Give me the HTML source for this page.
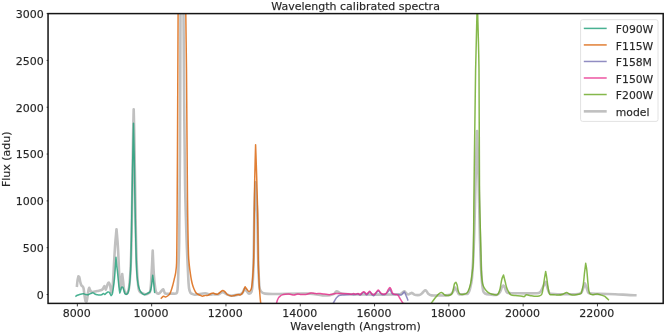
<!DOCTYPE html>
<html><head><meta charset="utf-8"><title>Wavelength calibrated spectra</title>
<style>html,body{margin:0;padding:0;background:#fff;width:665px;height:334px;overflow:hidden}svg{display:block}</style>
</head><body>
<svg width="665" height="334" viewBox="0 0 665 334" font-family="'DejaVu Sans', 'Liberation Sans', sans-serif"><style>text{stroke:#262626;stroke-width:0.25px;stroke-opacity:0.6}</style><defs><clipPath id="ax"><rect x="48.05" y="13.6" width="615.15" height="289.8"/></clipPath></defs>
<g clip-path="url(#ax)" fill="none" stroke-linejoin="round" stroke-linecap="butt">
<path d="M76.80 287.00 C77.07 284.67 77.26 282.32 77.60 280.00 C77.79 278.72 78.13 277.47 78.40 276.20 C78.67 276.47 79.09 276.65 79.20 277.00 C79.76 278.75 79.91 280.69 80.40 282.50 C80.68 283.53 80.97 284.62 81.50 285.50 C81.77 285.95 82.50 286.07 82.80 286.50 C83.20 287.07 83.46 287.80 83.60 288.50 C83.99 290.47 84.10 292.51 84.40 294.50 C84.73 296.67 84.88 299.03 85.50 301.00 C85.61 301.36 86.48 301.80 86.60 301.50 C87.18 300.13 87.30 297.84 87.60 296.00 C87.93 294.00 88.11 291.98 88.50 290.00 C88.65 289.25 88.97 288.53 89.20 287.80 C89.57 288.70 89.82 289.67 90.30 290.50 C90.59 291.00 90.99 291.62 91.50 291.80 C92.22 292.05 93.18 291.90 94.00 291.80 C95.08 291.67 96.14 291.35 97.20 291.10 C98.40 290.82 99.63 290.59 100.80 290.20 C101.43 289.99 102.14 289.74 102.60 289.30 C103.07 288.84 103.26 288.09 103.60 287.50 C103.86 287.06 104.13 286.63 104.40 286.20 C104.67 286.80 104.95 287.39 105.20 288.00 C105.42 288.53 105.60 289.07 105.80 289.60 C106.20 288.40 106.58 287.19 107.00 286.00 C107.32 285.09 107.55 284.11 108.00 283.30 C108.18 282.98 108.69 282.46 108.90 282.60 C109.29 282.86 109.60 283.83 109.80 284.50 C110.14 285.63 110.29 286.83 110.50 288.00 C110.76 289.49 110.97 291.00 111.20 292.50 C111.47 291.67 111.82 290.85 112.00 290.00 C112.35 288.35 112.67 286.68 112.80 285.00 C113.34 278.01 113.59 271.00 114.00 264.00 C114.39 257.33 114.72 250.66 115.20 244.00 C115.55 239.06 116.07 234.13 116.50 229.20 C116.93 234.47 117.47 239.73 117.80 245.00 C118.27 252.66 118.53 260.33 118.90 268.00 C119.19 274.00 119.37 280.02 119.80 286.00 C119.87 287.02 120.20 288.00 120.40 289.00 C120.67 286.67 120.92 284.33 121.20 282.00 C121.52 279.33 121.87 276.67 122.20 274.00 C122.53 276.67 122.88 279.33 123.20 282.00 C123.48 284.33 123.51 286.72 124.00 289.00 C124.35 290.62 124.86 292.74 125.70 293.70 C126.03 294.07 127.20 293.51 127.50 293.00 C128.30 291.61 128.78 289.72 129.00 288.00 C129.78 282.05 130.19 276.01 130.50 270.00 C131.02 260.01 131.28 250.00 131.50 240.00 C131.94 220.00 132.19 200.00 132.50 180.00 C132.76 163.33 132.92 146.67 133.20 130.00 C133.32 123.10 133.53 116.20 133.70 109.30 C133.87 116.20 134.07 123.10 134.20 130.00 C134.51 146.67 134.73 163.33 135.00 180.00 C135.33 200.00 135.56 220.00 136.00 240.00 C136.22 250.00 136.48 260.01 137.00 270.00 C137.31 276.01 137.69 282.07 138.50 288.00 C138.69 289.40 139.05 291.09 140.00 292.00 C141.22 293.16 143.29 293.88 145.00 294.20 C145.96 294.38 147.10 293.94 148.00 293.50 C148.80 293.11 149.93 292.57 150.10 291.70 C151.10 286.41 151.15 280.57 151.50 275.00 C152.01 266.87 152.30 258.73 152.70 250.60 C153.10 258.73 153.36 266.88 153.90 275.00 C154.19 279.34 154.57 283.70 155.20 288.00 C155.44 289.64 155.67 291.60 156.50 292.80 C156.93 293.43 158.28 293.71 159.00 293.50 C159.78 293.27 160.34 292.17 161.00 291.50 C161.71 290.77 162.54 289.04 163.10 289.30 C163.97 289.71 164.06 292.93 165.30 293.50 C167.19 294.36 170.10 293.64 172.50 293.60 C173.84 293.58 175.69 294.03 176.50 293.30 C177.39 292.49 177.48 290.47 177.60 289.00 C178.11 282.70 178.19 276.34 178.40 270.00 C178.73 260.00 179.07 250.00 179.20 240.00 C179.60 210.00 179.83 180.00 180.00 150.00 C180.26 104.67 180.30 59.33 180.50 14.00 C180.97 -90.67 181.50 -195.33 182.00 -300.00 C182.50 -195.33 182.85 -90.67 183.50 14.00 C183.85 69.33 184.24 124.67 185.00 180.00 C185.27 200.00 185.95 220.00 186.60 240.00 C186.95 250.67 187.47 261.34 188.00 272.00 C188.27 277.34 188.37 282.72 189.00 288.00 C189.20 289.72 189.75 291.54 190.50 293.00 C190.75 293.47 191.47 293.60 192.00 293.80 C192.97 294.17 193.97 294.75 195.00 294.70 C198.44 294.55 201.98 293.20 205.40 293.20 C206.98 293.20 208.44 294.50 210.00 294.70 C210.98 294.83 211.99 294.23 213.00 294.20 C214.66 294.16 216.42 294.82 218.00 294.50 C219.58 294.18 220.99 292.27 222.50 292.30 C224.22 292.34 225.92 294.02 227.70 294.70 C228.89 295.15 230.15 295.70 231.40 295.70 C233.58 295.70 235.83 295.15 238.00 294.70 C239.36 294.42 241.06 294.38 242.00 293.50 C243.26 292.31 243.73 290.17 244.60 288.50 C245.40 289.50 246.16 290.53 247.00 291.50 C247.63 292.23 248.27 293.55 249.00 293.60 C249.77 293.65 251.16 292.70 251.50 291.80 C252.36 289.50 252.39 286.62 252.60 284.00 C253.02 278.68 253.22 273.34 253.40 268.00 C253.66 260.34 253.77 252.67 253.90 245.00 C254.07 235.00 254.10 225.00 254.30 215.00 C254.43 208.67 254.67 202.33 254.90 196.00 C255.07 191.40 255.30 186.80 255.50 182.20 C255.73 186.80 255.95 191.40 256.20 196.00 C256.55 202.33 257.08 208.66 257.30 215.00 C257.65 224.99 257.70 235.00 257.90 245.00 C258.03 251.67 258.10 258.34 258.30 265.00 C258.44 269.67 258.61 274.34 258.90 279.00 C259.11 282.34 259.06 285.82 259.80 289.00 C260.10 290.28 261.04 291.55 262.00 292.40 C262.77 293.08 263.95 293.44 265.00 293.60 C267.45 293.97 270.00 294.00 272.50 294.00 C285.00 294.00 297.53 293.25 310.00 293.60 C314.20 293.72 318.32 295.07 322.50 295.40 C324.98 295.60 327.54 295.50 330.00 295.20 C331.37 295.03 332.84 294.69 334.00 294.00 C335.08 293.36 335.67 291.33 336.70 291.20 C337.81 291.06 339.09 292.76 340.40 293.20 C341.86 293.69 343.45 293.86 345.00 294.00 C348.32 294.30 351.66 294.49 355.00 294.50 C370.00 294.55 385.16 294.82 400.00 294.20 C401.00 294.16 401.67 293.07 402.50 292.50 C403.13 292.07 403.83 291.06 404.40 291.20 C405.17 291.39 405.72 292.84 406.50 293.50 C407.02 293.94 407.70 294.50 408.30 294.50 C408.93 294.50 409.55 293.78 410.20 293.50 C410.78 293.25 411.45 292.78 412.00 292.90 C412.71 293.05 413.29 293.91 414.00 294.30 C414.56 294.61 415.17 294.92 415.80 295.00 C417.00 295.15 418.32 295.21 419.50 295.00 C420.16 294.88 420.76 294.41 421.30 294.00 C421.86 293.58 422.28 292.98 422.80 292.50 C423.61 291.75 424.45 290.51 425.30 290.30 C425.79 290.18 426.39 291.02 426.80 291.50 C427.36 292.15 427.55 293.16 428.20 293.70 C429.12 294.46 430.31 295.19 431.50 295.40 C433.58 295.76 435.83 295.40 438.00 295.40 C439.97 295.40 441.94 295.50 443.90 295.40 C445.94 295.30 448.16 295.42 450.00 294.80 C451.02 294.46 451.87 293.42 452.50 292.50 C453.54 290.99 454.17 289.17 455.00 287.50 C455.90 289.00 456.82 290.49 457.70 292.00 C458.12 292.72 458.19 294.01 458.90 294.20 C460.63 294.67 462.98 294.16 465.00 294.00 C466.01 293.92 467.36 294.14 468.00 293.50 C469.03 292.47 469.59 290.58 470.00 289.00 C470.93 285.41 471.70 281.71 472.00 278.00 C473.03 265.38 473.53 252.67 474.00 240.00 C474.73 220.01 475.03 200.00 475.60 180.00 C476.06 163.67 476.60 147.33 477.10 131.00 C477.60 147.33 478.17 163.66 478.60 180.00 C479.13 200.00 479.40 220.00 480.00 240.00 C480.36 252.00 480.75 264.02 481.50 276.00 C481.81 281.02 482.23 286.16 483.20 291.00 C483.40 291.99 484.15 293.06 485.00 293.50 C486.41 294.23 488.31 294.33 490.00 294.50 C492.31 294.73 494.89 295.23 497.00 294.70 C498.22 294.40 499.29 293.10 500.00 292.00 C500.95 290.53 501.18 288.57 502.00 287.00 C502.31 286.40 502.99 285.36 503.40 285.50 C503.99 285.70 504.55 287.12 505.00 288.00 C505.75 289.46 505.90 291.55 507.00 292.50 C507.90 293.28 509.65 293.12 511.00 293.20 C513.99 293.38 517.00 293.30 520.00 293.30 C525.67 293.30 531.38 293.51 537.00 293.20 C538.05 293.14 539.28 292.88 540.00 292.20 C541.11 291.15 541.72 289.43 542.50 288.00 C543.62 285.96 544.63 283.87 545.70 281.80 C546.70 285.10 547.43 288.55 548.70 291.70 C549.03 292.52 549.63 293.62 550.50 293.70 C558.40 294.45 566.86 294.39 575.00 294.20 C577.03 294.15 579.54 294.09 581.00 293.00 C582.31 292.02 582.59 289.69 583.30 288.00 C583.93 286.49 584.43 284.93 585.00 283.40 C585.57 284.93 586.11 286.47 586.70 288.00 C587.35 289.67 587.27 292.37 588.70 293.00 C591.71 294.33 596.23 293.73 600.00 293.90 C604.99 294.13 610.00 294.00 615.00 294.20 C620.00 294.40 625.00 294.87 630.00 295.10 C632.20 295.20 634.40 295.17 636.60 295.20" stroke="#c0c0c0" stroke-width="2.6"/>
<path d="M75.30 296.50 C76.00 296.10 76.67 295.65 77.40 295.30 C78.07 294.98 78.79 294.73 79.50 294.50 C80.22 294.26 80.96 294.03 81.70 293.90 C82.29 293.80 82.91 293.72 83.50 293.80 C84.18 293.89 84.82 294.24 85.50 294.40 C86.26 294.58 87.06 294.87 87.80 294.80 C88.39 294.74 88.93 294.25 89.50 294.00 C90.16 293.72 90.82 293.41 91.50 293.20 C92.02 293.04 92.61 292.76 93.10 292.90 C93.91 293.13 94.59 293.95 95.40 294.30 C96.05 294.58 96.79 294.67 97.50 294.80 C98.09 294.91 98.70 295.01 99.30 295.00 C100.10 294.98 100.96 294.96 101.70 294.70 C102.36 294.46 102.90 293.56 103.50 293.50 C103.94 293.46 104.38 294.45 104.80 294.40 C105.28 294.35 105.71 293.57 106.20 293.20 C106.78 292.77 107.36 292.19 108.00 292.00 C108.39 291.89 109.00 292.03 109.30 292.30 C109.73 292.69 109.89 293.44 110.20 294.00 C110.49 294.54 110.80 295.07 111.10 295.60 C111.47 295.17 112.03 294.83 112.20 294.30 C112.73 292.63 112.94 290.78 113.20 289.00 C113.67 285.81 114.08 282.61 114.40 279.40 C114.78 275.61 115.03 271.80 115.30 268.00 C115.56 264.40 115.77 260.80 116.00 257.20 C116.27 260.13 116.50 263.07 116.80 266.00 C116.97 267.67 117.23 269.33 117.40 271.00 C117.69 273.80 117.92 276.60 118.20 279.40 C118.52 282.60 118.83 285.80 119.20 289.00 C119.36 290.37 119.60 291.73 119.80 293.10 C120.07 292.30 120.35 291.51 120.60 290.70 C120.95 289.54 121.05 288.08 121.60 287.20 C121.78 286.91 122.60 286.91 122.80 287.20 C123.40 288.08 123.59 289.54 124.00 290.70 C124.36 291.70 124.48 293.00 125.10 293.70 C125.45 294.10 126.41 294.19 126.90 294.00 C127.41 293.79 127.91 293.10 128.10 292.50 C128.71 290.63 129.03 288.59 129.30 286.60 C129.73 283.42 129.99 280.21 130.20 277.00 C130.52 272.01 130.77 267.00 130.90 262.00 C131.27 248.00 131.46 234.00 131.70 220.00 C131.99 203.33 132.19 186.67 132.50 170.00 C132.79 154.40 133.17 138.80 133.50 123.20 C133.83 138.80 134.21 154.40 134.50 170.00 C134.81 186.67 134.98 203.33 135.30 220.00 C135.54 232.67 135.81 245.34 136.20 258.00 C136.38 263.67 136.58 269.35 137.00 275.00 C137.25 278.35 137.59 281.71 138.20 285.00 C138.53 286.78 139.12 288.53 139.80 290.20 C140.12 291.00 140.60 291.79 141.20 292.40 C142.07 293.29 143.12 294.48 144.20 294.70 C145.12 294.88 146.26 294.08 147.20 293.60 C148.22 293.08 149.61 292.66 150.10 291.70 C151.07 289.80 151.24 287.26 151.60 285.00 C152.11 281.79 152.33 278.53 152.70 275.30 C153.00 277.53 153.35 279.76 153.60 282.00 C153.98 285.46 154.10 289.07 154.60 292.40 C154.63 292.60 155.00 292.53 155.20 292.60" stroke="#1b9e77" stroke-width="1.5" stroke-opacity="0.8"/>
<path d="M160.80 298.70 C161.70 297.87 162.50 296.55 163.50 296.20 C164.14 295.98 164.99 297.03 165.70 297.00 C166.35 296.97 167.04 296.44 167.60 296.00 C168.41 295.37 169.28 294.67 169.80 293.80 C170.61 292.44 171.08 290.83 171.60 289.30 C172.15 287.69 172.57 286.04 173.00 284.40 C173.47 282.61 173.88 280.80 174.30 279.00 C174.78 276.90 175.39 274.83 175.70 272.70 C176.16 269.49 176.53 266.25 176.60 263.00 C177.03 242.01 177.06 221.00 177.20 200.00 C177.42 166.67 177.54 133.33 177.70 100.00 C177.84 71.33 177.96 42.67 178.10 14.00 C178.99 -170.67 179.90 -355.33 180.80 -540.00 C182.47 -355.33 184.07 -170.67 185.80 14.00 C185.97 32.67 186.33 51.33 186.50 70.00 C186.90 113.33 187.03 156.67 187.50 200.00 C187.70 218.34 187.97 236.68 188.50 255.00 C188.61 258.68 189.03 262.34 189.40 266.00 C189.63 268.34 189.97 270.67 190.30 273.00 C190.63 275.34 190.96 277.68 191.40 280.00 C191.72 281.68 192.12 283.36 192.60 285.00 C192.99 286.36 193.46 287.70 194.00 289.00 C194.46 290.10 194.93 291.23 195.60 292.20 C196.13 292.97 196.83 293.68 197.60 294.20 C198.37 294.72 199.33 294.94 200.20 295.30 C200.96 295.61 201.72 296.18 202.50 296.20 C203.32 296.22 204.14 295.53 205.00 295.40 C205.94 295.26 207.00 295.66 207.90 295.40 C208.94 295.10 209.79 294.18 210.80 293.70 C211.56 293.34 212.42 292.84 213.20 292.90 C214.05 292.97 214.83 293.87 215.70 294.10 C216.36 294.27 217.19 294.36 217.80 294.10 C218.73 293.70 219.45 292.74 220.30 292.10 C221.08 291.51 221.88 290.49 222.70 290.40 C223.38 290.32 224.21 291.07 224.80 291.60 C225.74 292.44 226.27 293.81 227.30 294.50 C228.47 295.28 230.01 295.83 231.40 296.00 C232.47 296.13 233.61 295.65 234.70 295.40 C235.81 295.15 236.89 294.60 238.00 294.50 C238.82 294.43 239.83 295.22 240.50 294.90 C241.50 294.42 242.40 293.17 243.00 292.10 C243.93 290.44 244.40 288.50 245.10 286.70 C245.77 287.67 246.35 288.70 247.10 289.60 C247.72 290.34 248.57 291.72 249.20 291.60 C249.97 291.45 250.92 289.87 251.30 288.80 C251.88 287.17 251.89 285.27 252.10 283.50 C252.39 281.01 252.63 278.50 252.80 276.00 C253.13 271.34 253.44 266.67 253.60 262.00 C253.84 254.67 253.90 247.33 254.00 240.00 C254.13 230.00 254.18 220.00 254.30 210.00 C254.42 200.00 254.50 190.00 254.70 180.00 C254.93 168.27 255.30 156.53 255.60 144.80 C256.00 156.53 256.44 168.27 256.80 180.00 C257.11 190.00 257.40 200.00 257.60 210.00 C257.80 220.00 257.87 230.00 258.00 240.00 C258.10 247.33 258.14 254.67 258.30 262.00 C258.40 266.67 258.60 271.33 258.80 276.00 C258.97 280.00 259.15 284.00 259.40 288.00 C259.62 291.47 259.90 294.94 260.20 298.40 C260.37 300.40 260.68 302.39 260.80 304.40 C261.11 309.59 261.27 314.80 261.50 320.00" stroke="#d95f02" stroke-width="1.5" stroke-opacity="0.8"/>
<path d="M332.60 304.40 C333.23 303.27 333.85 302.12 334.50 301.00 C335.08 299.99 335.57 298.89 336.30 298.00 C337.07 297.06 337.93 295.96 339.00 295.50 C340.33 294.93 341.99 295.02 343.50 294.90 C345.66 294.72 347.83 294.66 350.00 294.60 C351.67 294.56 353.34 294.70 355.00 294.60 C356.01 294.54 357.02 294.03 358.00 294.10 C358.85 294.16 359.76 295.23 360.50 295.00 C361.69 294.63 362.74 292.30 363.80 292.30 C364.77 292.30 365.67 295.05 366.60 295.00 C367.63 294.95 368.71 291.92 369.70 292.00 C370.77 292.09 371.65 294.66 372.80 295.50 C373.15 295.76 373.85 295.59 374.20 295.30 C375.68 294.09 376.93 291.17 378.30 291.00 C379.39 290.87 380.30 293.72 381.60 294.40 C382.53 294.89 384.04 294.92 385.00 294.50 C386.24 293.96 387.23 292.59 388.20 291.50 C388.87 290.75 389.33 289.83 389.90 289.00 C390.73 290.67 391.21 292.83 392.40 294.00 C393.04 294.63 394.40 294.29 395.40 294.40 C396.26 294.49 397.14 294.51 398.00 294.60 C399.00 294.71 400.07 295.14 401.00 295.00 C401.57 294.91 402.04 294.32 402.50 293.90 C403.14 293.32 403.82 291.84 404.30 292.00 C404.92 292.21 405.33 293.99 405.80 295.00 C406.23 295.92 406.61 296.86 407.00 297.80 C407.38 298.73 407.73 299.67 408.10 300.60" stroke="#7570b3" stroke-width="1.5" stroke-opacity="0.8"/>
<path d="M276.00 305.50 C276.40 303.93 276.70 302.33 277.20 300.80 C277.56 299.70 277.97 298.55 278.60 297.60 C279.07 296.89 279.81 296.32 280.50 295.80 C281.01 295.42 281.60 295.10 282.20 294.90 C283.10 294.60 284.06 294.43 285.00 294.30 C286.16 294.13 287.34 293.96 288.50 294.00 C289.34 294.03 290.17 294.33 291.00 294.50 C292.00 294.70 293.01 295.17 294.00 295.10 C295.21 295.01 296.38 294.12 297.60 294.00 C298.71 293.89 299.86 294.33 301.00 294.40 C302.56 294.50 304.16 294.71 305.70 294.50 C307.53 294.25 309.28 293.17 311.10 293.00 C312.58 292.87 314.09 293.50 315.60 293.60 C317.09 293.70 318.60 293.53 320.10 293.60 C321.47 293.66 322.84 293.84 324.20 294.00 C325.87 294.20 327.54 294.68 329.20 294.70 C330.40 294.71 331.61 294.33 332.80 294.10 C333.67 293.93 334.52 293.58 335.40 293.50 C337.18 293.34 339.00 293.37 340.80 293.40 C343.20 293.44 345.61 293.50 348.00 293.70 C349.24 293.80 350.49 294.32 351.70 294.30 C352.32 294.29 352.89 293.60 353.50 293.60 C354.23 293.60 354.97 294.30 355.70 294.30 C356.47 294.30 357.25 293.55 358.00 293.60 C358.75 293.65 359.55 294.75 360.20 294.60 C360.95 294.42 361.47 293.19 362.20 292.60 C362.67 292.22 363.29 291.67 363.80 291.70 C364.32 291.73 364.85 292.38 365.30 292.80 C365.78 293.25 366.16 294.33 366.60 294.30 C367.12 294.26 367.64 293.14 368.20 292.60 C368.67 292.14 369.23 291.24 369.70 291.30 C370.23 291.37 370.69 292.44 371.20 293.00 C371.59 293.44 371.91 294.02 372.40 294.30 C372.85 294.56 373.56 294.80 374.00 294.60 C374.69 294.30 375.21 293.41 375.80 292.80 C376.65 291.91 377.47 290.21 378.30 290.10 C378.94 290.01 379.55 291.51 380.20 292.20 C380.65 292.68 381.05 293.27 381.60 293.60 C382.15 293.93 382.86 294.21 383.50 294.20 C384.33 294.18 385.42 294.06 386.00 293.50 C386.98 292.56 387.40 290.92 388.20 289.70 C388.70 288.95 389.38 287.60 389.90 287.60 C390.38 287.60 390.84 288.96 391.20 289.70 C391.77 290.86 391.97 292.30 392.70 293.30 C393.11 293.86 393.92 294.19 394.60 294.40 C395.32 294.62 396.20 294.36 396.90 294.60 C397.47 294.79 398.02 295.22 398.40 295.70 C399.02 296.49 399.38 297.51 399.90 298.40 C400.48 299.38 401.07 300.35 401.70 301.30 C402.04 301.82 402.50 302.26 402.80 302.80 C403.27 303.66 403.60 304.60 404.00 305.50" stroke="#e7298a" stroke-width="1.5" stroke-opacity="0.8"/>
<path d="M431.30 303.20 C432.20 301.97 433.07 300.71 434.00 299.50 C434.77 298.51 435.58 297.55 436.40 296.60 C437.22 295.65 437.96 294.60 438.90 293.80 C439.56 293.24 440.42 292.60 441.20 292.50 C441.78 292.43 442.47 292.92 443.00 293.30 C443.64 293.76 444.02 294.64 444.70 295.00 C445.42 295.38 446.36 295.50 447.20 295.50 C448.16 295.50 449.24 295.39 450.10 295.00 C450.87 294.65 451.70 294.04 452.10 293.30 C452.80 291.98 453.01 290.31 453.40 288.80 C453.85 287.05 453.98 285.14 454.60 283.50 C454.81 282.94 455.47 282.63 455.90 282.20 C456.30 283.13 456.83 284.03 457.10 285.00 C457.63 286.96 457.69 289.08 458.30 291.00 C458.65 292.11 459.05 293.78 460.00 294.10 C461.62 294.65 464.25 294.26 466.00 293.60 C466.99 293.23 467.72 292.01 468.20 291.00 C469.22 288.87 469.96 286.52 470.50 284.20 C471.23 281.02 471.60 277.75 472.00 274.50 C472.50 270.51 473.10 266.52 473.20 262.50 C473.77 238.35 473.70 214.17 474.00 190.00 C474.50 150.00 474.91 110.00 475.60 70.00 C476.01 46.66 476.73 23.33 477.30 0.00 C477.87 23.33 478.73 46.66 479.00 70.00 C479.46 110.00 479.07 150.00 479.50 190.00 C479.73 211.67 480.51 233.33 481.00 255.00 C481.11 260.00 481.04 265.01 481.30 270.00 C481.54 274.48 481.71 279.03 482.50 283.40 C482.84 285.26 483.73 287.08 484.70 288.70 C485.47 289.98 486.51 291.22 487.70 292.10 C489.01 293.06 490.62 293.78 492.20 294.20 C493.86 294.64 496.13 295.38 497.40 294.70 C498.63 294.04 499.24 291.81 499.70 290.20 C500.74 286.57 500.98 282.68 501.90 279.00 C502.25 277.61 502.97 276.33 503.50 275.00 C504.07 277.27 504.63 279.54 505.20 281.80 C505.73 283.87 506.10 285.99 506.80 288.00 C507.30 289.46 508.00 290.88 508.80 292.20 C509.37 293.15 509.98 294.30 510.90 294.80 C512.08 295.44 513.69 295.44 515.10 295.60 C516.85 295.80 518.64 295.72 520.40 295.90 C521.28 295.99 522.13 296.24 523.00 296.40 C523.43 296.48 523.94 296.77 524.30 296.60 C524.97 296.27 525.37 295.06 526.10 294.90 C527.20 294.66 528.57 295.20 529.80 295.40 C531.21 295.63 532.59 296.12 534.00 296.20 C535.72 296.29 537.56 296.30 539.20 295.90 C540.16 295.67 541.41 295.16 541.80 294.30 C542.75 292.20 542.79 289.44 543.20 287.00 C543.62 284.51 543.90 281.99 544.30 279.50 C544.73 276.83 545.23 274.17 545.70 271.50 C546.03 273.50 546.40 275.49 546.70 277.50 C547.14 280.46 547.37 283.46 547.90 286.40 C548.37 289.02 548.39 292.39 549.70 294.20 C550.39 295.16 552.50 294.55 553.90 294.70 C555.40 294.85 556.91 295.18 558.40 295.10 C559.91 295.02 561.46 294.67 562.90 294.20 C564.19 293.77 565.39 292.40 566.60 292.40 C567.63 292.40 568.51 293.83 569.60 294.20 C571.15 294.73 572.87 295.10 574.50 295.10 C576.00 295.10 577.54 294.61 579.00 294.20 C579.77 293.98 580.89 293.88 581.20 293.20 C582.29 290.82 582.75 287.77 583.20 285.00 C583.85 281.04 584.04 277.00 584.50 273.00 C584.87 269.76 585.30 266.53 585.70 263.30 C586.07 265.53 586.54 267.75 586.80 270.00 C587.31 274.45 587.48 278.95 588.00 283.40 C588.38 286.68 588.38 290.39 589.50 293.20 C589.88 294.15 591.45 294.52 592.50 294.70 C593.42 294.86 594.43 294.28 595.40 294.20 C596.39 294.12 597.42 294.05 598.40 294.20 C599.42 294.35 600.41 294.77 601.40 295.10 C602.41 295.44 603.49 295.68 604.40 296.20 C605.25 296.68 605.96 297.44 606.70 298.10 C607.46 298.77 608.17 299.50 608.90 300.20" stroke="#66a61e" stroke-width="1.5" stroke-opacity="0.8"/>
</g>
<path d="M46.65 294.50 H48.05 M46.65 247.68 H48.05 M46.65 200.87 H48.05 M46.65 154.05 H48.05 M46.65 107.23 H48.05 M46.65 60.42 H48.05 M46.65 13.60 H48.05 M77.35 303.40 V306.40 M151.65 303.40 V306.40 M225.95 303.40 V306.40 M300.26 303.40 V306.40 M374.56 303.40 V306.40 M448.86 303.40 V306.40 M523.16 303.40 V306.40 M597.46 303.40 V306.40" stroke="#262626" stroke-width="0.9" fill="none"/>
<rect x="48.05" y="13.6" width="615.15" height="289.8" fill="none" stroke="#151515" stroke-width="1.5"/>
<g font-size="11" fill="#262626"><text x="43.85" y="298.90" text-anchor="end">0</text><text x="43.85" y="252.08" text-anchor="end">500</text><text x="43.85" y="205.27" text-anchor="end">1000</text><text x="43.85" y="158.45" text-anchor="end">1500</text><text x="43.85" y="111.63" text-anchor="end">2000</text><text x="43.85" y="64.82" text-anchor="end">2500</text><text x="43.85" y="18.00" text-anchor="end">3000</text><text x="76.75" y="316.90" text-anchor="middle">8000</text><text x="151.05" y="316.90" text-anchor="middle">10000</text><text x="225.35" y="316.90" text-anchor="middle">12000</text><text x="299.66" y="316.90" text-anchor="middle">14000</text><text x="373.96" y="316.90" text-anchor="middle">16000</text><text x="448.26" y="316.90" text-anchor="middle">18000</text><text x="522.56" y="316.90" text-anchor="middle">20000</text><text x="596.86" y="316.90" text-anchor="middle">22000</text></g>
<text x="355.6" y="9.6" text-anchor="middle" font-size="11" fill="#262626">Wavelength calibrated spectra</text>
<text x="355.5" y="330.3" text-anchor="middle" font-size="11" fill="#262626">Wavelength (Angstrom)</text>
<text transform="translate(10.3 159.3) rotate(-90)" text-anchor="middle" font-size="11" fill="#262626">Flux (adu)</text>
<rect x="580.6" y="19.7" width="77.4" height="101.7" rx="2" ry="2" fill="#ffffff" fill-opacity="0.8" stroke="#e2e2e2" stroke-width="1"/><path d="M583.8 28.40 H606.7" stroke="#1b9e77" stroke-width="1.5" stroke-opacity="0.8"/><text x="615.8" y="33.10" font-size="10.8" fill="#262626">F090W</text><path d="M583.8 44.93 H606.7" stroke="#d95f02" stroke-width="1.5" stroke-opacity="0.8"/><text x="615.8" y="49.63" font-size="10.8" fill="#262626">F115W</text><path d="M583.8 61.46 H606.7" stroke="#7570b3" stroke-width="1.5" stroke-opacity="0.8"/><text x="615.8" y="66.16" font-size="10.8" fill="#262626">F158M</text><path d="M583.8 77.99 H606.7" stroke="#e7298a" stroke-width="1.5" stroke-opacity="0.8"/><text x="615.8" y="82.69" font-size="10.8" fill="#262626">F150W</text><path d="M583.8 94.52 H606.7" stroke="#66a61e" stroke-width="1.5" stroke-opacity="0.8"/><text x="615.8" y="99.22" font-size="10.8" fill="#262626">F200W</text><path d="M583.8 111.35 H606.7" stroke="#c0c0c0" stroke-width="2.6"/><text x="615.8" y="115.75" font-size="10.8" fill="#262626">model</text></svg>
</body></html>
